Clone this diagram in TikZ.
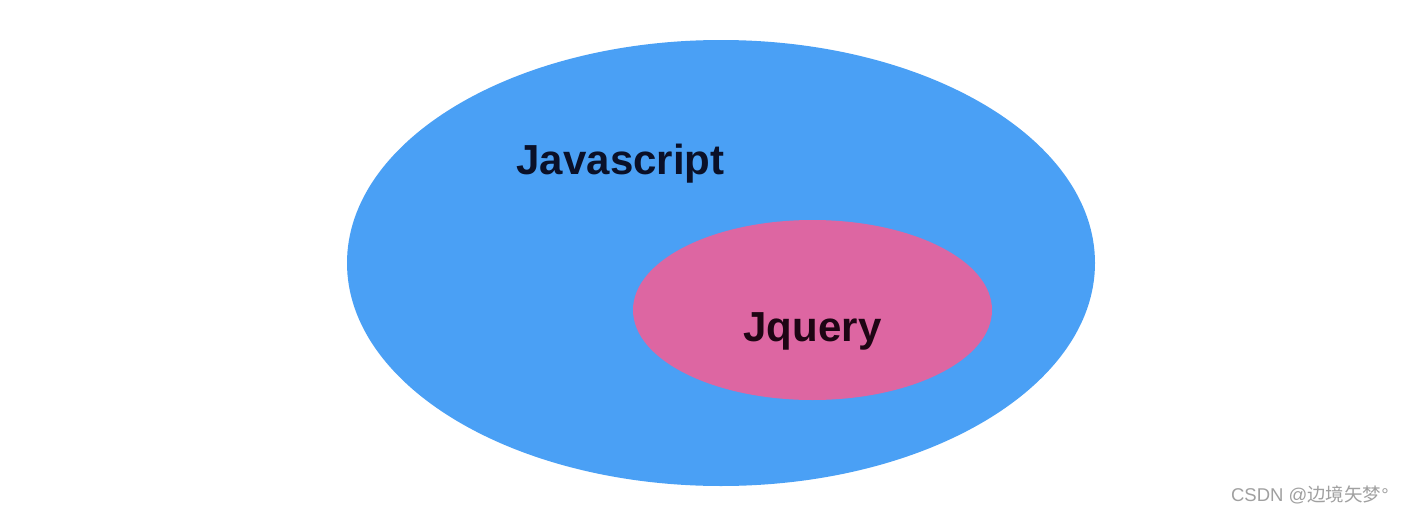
\documentclass[tikz,border=0pt]{standalone}
\usepackage{fontspec}
\setmainfont{Liberation Sans}
\newfontfamily\cjk{Noto Sans CJK SC}
\usetikzlibrary{shapes.geometric}
\definecolor{outerblue}{RGB}{74,160,245}
\definecolor{innerpink}{RGB}{221,102,162}
\definecolor{navytext}{RGB}{10,16,40}
\definecolor{darktext}{RGB}{30,5,20}
\definecolor{wmgrey}{RGB}{160,160,160}
\begin{document}
\begin{tikzpicture}[x=1pt,y=-1pt,
  blob/.style={ellipse,inner sep=0pt,draw=none},
  biglabel/.style={anchor=base,inner sep=0pt,font=\fontsize{42}{42}\selectfont\bfseries}]
\useasboundingbox (0,0) rectangle (1401,514);
\fill[white] (0,0) rectangle (1401,514);
\node[blob,fill=outerblue,minimum width=748pt,minimum height=446pt] (outer) at (721,263) {};
\node[blob,fill=innerpink,minimum width=359pt,minimum height=180pt] (inner) at (812.5,310) {};
\node[biglabel,text=navytext] (js) at (620.5,174) {Javascript};
\node[biglabel,text=darktext] (jq) at (812.5,341) {Jquery};
\node[anchor=base east,inner sep=0pt,text=wmgrey,font=\fontsize{18.5}{18.5}\selectfont] (wm) at (1389,501) {CSDN @{\cjk 边境矢梦}°};
\end{tikzpicture}
\end{document}
